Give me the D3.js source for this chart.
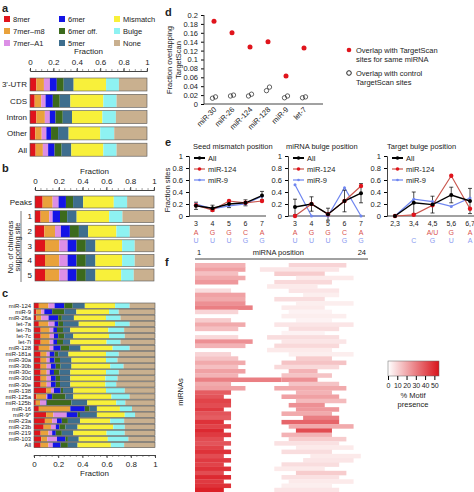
<!DOCTYPE html><html><head><meta charset="utf-8"><script src="https://cdn.jsdelivr.net/npm/d3@7"></script>
<style>body{margin:0;background:#fff}text{font-family:"Liberation Sans",Arial,sans-serif;fill:#222}</style></head><body><svg id="s" width="474" height="492"></svg><script>
const segNames=["8mer","7mer–m8","7mer–A1","6mer","6mer off.","5mer","Mismatch","Bulge","None"];
const segColors=["#e0141c","#e9a23b","#dc8fe6","#1414e6","#3c6a1c","#3e6e8e","#f8f03a","#8ef2f2","#c9b08f"];
const aCats=["3'-UTR","CDS","Intron","Other","All"];
const aCum=[[.054,.119,.17,.229,.288,.373,.65,.76],[.04,.096,.133,.195,.254,.345,.627,.74],[.054,.127,.169,.218,.28,.359,.619,.734],[.045,.10,.14,.18,.24,.33,.60,.72],[.048,.11,.155,.21,.27,.353,.627,.74]];
const bCats=["Peaks","1","2","3","4","5"];
const bCum=[[.064,.148,.198,.26,.32,.405,.662,.774],[.047,.12,.148,.21,.27,.35,.623,.735],[.078,.168,.218,.293,.369,.447,.684,.796],[.084,.204,.274,.349,.427,.508,.732,.838],[.084,.204,.274,.349,.427,.508,.732,.838],[.084,.204,.274,.349,.427,.508,.724,.83]];
const cCats=["miR-124","miR-9","miR-26a","let-7a","let-7b","let-7c","let-7i","miR-128","miR-181a","miR-30a","miR-30b","miR-30c","miR-30d","miR-30e","miR-138","miR-125a","miR-125b","miR-16","miR-9*","miR-23a","miR-23b","miR-219","miR-103","All"];
const cCum=[[.04,.12,.17,.25,.32,.42,.67,.79],[.02,.06,.085,.15,.25,.35,.62,.70],[.02,.06,.12,.20,.23,.33,.595,.715],[.04,.12,.17,.20,.24,.37,.67,.79],[.055,.13,.16,.19,.24,.30,.615,.745],[.055,.13,.165,.20,.25,.325,.62,.75],[.055,.13,.16,.19,.24,.30,.60,.715],[.04,.13,.16,.22,.29,.385,.65,.79],[.055,.105,.13,.17,.20,.285,.595,.70],[.055,.105,.13,.17,.215,.31,.595,.69],[.055,.105,.14,.18,.22,.31,.63,.74],[.055,.105,.13,.165,.21,.30,.595,.70],[.055,.105,.14,.18,.215,.30,.59,.69],[.055,.105,.14,.18,.215,.30,.59,.68],[.10,.14,.165,.22,.24,.325,.595,.75],[.02,.10,.11,.15,.26,.325,.64,.79],[.015,.05,.10,.105,.31,.44,.68,.755],[.04,.30,.30,.42,.46,.52,.71,.81],[.10,.16,.27,.36,.38,.52,.75,.835],[.09,.15,.19,.23,.28,.38,.63,.745],[.08,.14,.18,.21,.26,.36,.655,.75],[.055,.12,.15,.18,.23,.325,.60,.75],[.06,.11,.19,.26,.28,.37,.61,.78],[.055,.12,.155,.22,.28,.36,.635,.745]];
const dCats=["miR-30","miR-26","miR-124","miR-128","miR-9","let-7"];
const dSame=[.186,.16,.128,.14,.063,.126];
const dCtrl=[[.013,.016],[.018,.02],[.018,.022],[.03,.038],[.014,.018],[.014,.016]];
const dTicks=[0,.02,.04,.06,.08,.1,.12,.14,.16,.18,.2];
const e1X=["3","4","5","6","7"],e1Red=["A","G","G","C","A"],e1Blue=["U","U","U","G","G"];
const e1All=[.17,.13,.2,.22,.34],e1AllErr=[.06,.05,.06,.05,.07];
const e1R=[.18,.1,.25,.22,.25],e1B=[.2,.12,.17,.2,.33];
const e2X=["3","4","5","6","7"],e2Red=["A","G","G","C","A"],e2Blue=["U","U","U","G","G"];
const e2All=[.15,.2,.03,.25,.38],e2AllErr=[.13,.12,.1,.18,.16];
const e2R=[0,.2,.03,.25,.5],e2B=[.52,0,0,.47,0];
const e3X=["2,3","3,4","4,5","5,6","6,7"],e3Red=["","","A/U","G","A"],e3Blue=["","C","G","U","A"];
const e3All=[0,.22,.19,.35,.25],e3AllErr=[0,.18,.14,.13,.21];
const e3R=[0,.02,.18,.67,.12],e3B=[0,.28,.24,.16,.3];
// heatmap rows: [firstBlockEndCol, firstVal, secondStartCol, secondEndCol, secondVal]
const fRows=[[7,18,13,21,10],[7,22,9,20,6],[6,15,11,18,12],[7,20,14,22,5],[6,24,11,19,9],[0,0,10,17,5],[5,8,13,20,6],[7,22,15,20,4],[7,20,11,18,8],[7,26,14,22,4],[8,30,12,18,5],[6,10,13,19,3],[0,0,12,21,4],[5,12,14,19,3],[7,20,11,22,6],[6,15,13,20,8],[0,0,12,18,3],[6,9,10,20,8],[8,26,12,21,6],[7,18,11,20,9],[0,0,10,19,5],[5,10,13,22,4],[6,14,14,19,12],[7,20,12,21,14],[6,15,11,20,9],[7,22,13,17,18],[6,18,12,19,14],[12,30,12,17,26],[5,20,13,20,14],[7,22,11,21,20],[5,38,14,19,18],[4,40,12,20,22],[5,44,14,21,16],[5,42,13,18,26],[4,46,14,20,24],[5,40,12,19,20],[5,38,15,20,30],[4,48,12,20,36],[5,44,13,22,20],[4,50,14,19,42],[5,46,12,19,18],[4,42,13,21,12],[5,40,11,20,7],[4,44,14,22,5],[5,48,12,19,8],[4,42,16,23,5],[5,46,15,22,6],[4,44,12,20,8],[5,48,11,18,5],[4,42,14,21,12],[5,50,12,20,7],[4,46,13,22,5],[5,48,12,19,4],[4,52,11,20,6]];
const cbTicks=[0,10,20,30,40,50];

const svg=d3.select("#s");
const T=(x,y,t,o={})=>{const e=svg.append("text").attr("x",x).attr("y",y).text(t).attr("font-size",o.fs||8).attr("text-anchor",o.a||"start");if(o.fill)e.style("fill",o.fill);if(o.w)e.attr("font-weight",o.w);if(o.rot)e.attr("transform",`rotate(${o.rot},${x},${y})`);return e;};
[["a",2,12],["b",2,172],["c",2,297],["d",165,16],["e",165,146],["f",165,266]].forEach(p=>T(p[1],p[2],p[0],{fs:11,w:"bold"}));
segNames.forEach((n,i)=>{const col=Math.floor(i/3),row=i%3;const x=4+col*55,y=16+row*12;svg.append("rect").attr("x",x).attr("y",y).attr("width",6).attr("height",6).attr("fill",segColors[i]);T(x+9,y+6,n,{fs:7.5});});
function stacked(cats,cum,x0,x1,y0,step,h,fs,axisY,titleY,axisBottom){
  const x=d3.scaleLinear().domain([0,1]).range([x0,x1]);
  cats.forEach((c,i)=>{const b=[0,...cum[i],1];const y=y0+i*step;
    b.slice(0,-1).forEach((v,j)=>svg.append("rect").attr("x",x(v)).attr("y",y).attr("width",x(b[j+1])-x(v)).attr("height",h).attr("fill",segColors[j]));
    svg.append("rect").attr("x",x0).attr("y",y).attr("width",x1-x0).attr("height",h).attr("fill","none").attr("stroke","#555").attr("stroke-width",.6);
    T(x0-3,y+h/2+fs*0.36,c,{fs:fs,a:"end"});});
  const ax=axisBottom?d3.axisBottom(x):d3.axisTop(x);
  const g=svg.append("g").attr("transform",`translate(0,${axisY})`).call(ax.ticks(5).tickSize(3).tickFormat(d=>d===0||d===1?d:d3.format(".1f")(d)));
  g.selectAll("text").attr("font-size",8).style("font-family","Liberation Sans");g.select(".domain").attr("stroke","#444");
  g.selectAll(".tick line").attr("stroke","#444");
  g.selectAll(".minor").data(d3.range(0,1.001,.05)).enter().append("line").attr("x1",d=>x(d)).attr("x2",d=>x(d)).attr("y1",0).attr("y2",axisBottom?2:-2).attr("stroke","#444").attr("stroke-width",.5);
  T((x0+x1)/2,titleY,"Fraction",{fs:8,a:"middle"});
}
stacked(aCats,aCum,30,147,78,16.3,13,8,71,54,false);
stacked(bCats,bCum,35,154,196,14.6,12,8,190,174,false);
svg.append("line").attr("x1",21).attr("x2",21).attr("y1",211).attr("y2",282).attr("stroke","#444").attr("stroke-width",.7);
T(13,247,"No. of chimeras",{fs:7.5,a:"middle",rot:-90});T(20,247,"supporting site",{fs:7.5,a:"middle",rot:-90});
stacked(cCats,cCum,34,155,303,6.06,5.3,5.9,455,476,true);
{const y=d3.scaleLinear().domain([0,.2]).range([104,15]);const x=d3.scalePoint().domain(dCats).range([214,304]);
 const g=svg.append("g").attr("transform","translate(204,0)").call(d3.axisLeft(y).tickValues(dTicks).tickSize(3).tickFormat(d=>d===0?"0":d3.format("~g")(d)));
 g.selectAll("text").attr("font-size",7.5);g.select(".domain").remove();
 svg.append("line").attr("x1",204).attr("x2",204).attr("y1",15).attr("y2",104).attr("stroke","#444");
 svg.append("line").attr("x1",204).attr("x2",323).attr("y1",104).attr("y2",104).attr("stroke","#444");
 dCats.forEach((c,i)=>{svg.append("circle").attr("cx",x(c)).attr("cy",y(dSame[i])).attr("r",2.5).attr("fill","#e0141c");
  dCtrl[i].forEach((v,k)=>svg.append("circle").attr("cx",x(c)+(k?1.5:-1.5)).attr("cy",y(v)).attr("r",2.2).attr("fill","none").attr("stroke","#222").attr("stroke-width",.7));
  T(x(c)+3,110,c,{fs:7.5,a:"end",rot:-45});});
 T(172,60,"Fraction overlapping",{fs:7.5,a:"middle",rot:-90});T(181,60,"TargetScan",{fs:7.5,a:"middle",rot:-90});
 svg.append("circle").attr("cx",349).attr("cy",50).attr("r",2.3).attr("fill","#e0141c");
 T(356,53,"Overlap with TargetScan",{fs:7.5});T(356,62,"sites for same miRNA",{fs:7.5});
 svg.append("circle").attr("cx",349).attr("cy",73).attr("r",2.3).attr("fill","none").attr("stroke","#222");
 T(356,76,"Overlap with control",{fs:7.5});T(356,85,"TargetScan sites",{fs:7.5});}
function ePanel(ax0,xs,xLab,red,blue,all,err,r,b,title,titleX){
  const y=d3.scaleLinear().domain([0,1]).range([216,156]);
  const x=d3.scalePoint().domain(xLab).range(xs);
  const g=svg.append("g").attr("transform",`translate(${ax0},0)`).call(d3.axisLeft(y).ticks(5).tickSize(3).tickFormat(d=>d===0||d===1?d:d3.format(".1f")(d)));
  g.selectAll("text").attr("font-size",7.5);g.select(".domain").attr("stroke","#444");
  svg.append("line").attr("x1",ax0).attr("x2",xs[1]+4).attr("y1",216).attr("y2",216).attr("stroke","#444");
  T(titleX,149,title,{fs:7.5});
  const line=d3.line().x((d,i)=>x(xLab[i])).y(d=>y(d));
  svg.append("path").attr("d",line(b)).attr("fill","none").attr("stroke","#6f86f0").attr("stroke-width",1.2);
  svg.append("path").attr("d",line(r)).attr("fill","none").attr("stroke","#c9574e").attr("stroke-width",1.2);
  svg.append("path").attr("d",line(all)).attr("fill","none").attr("stroke","#000").attr("stroke-width",1.4);
  all.forEach((v,i)=>{if(!err[i])return;const xx=x(xLab[i]);svg.append("line").attr("x1",xx).attr("x2",xx).attr("y1",y(v-err[i])).attr("y2",y(v+err[i])).attr("stroke","#000").attr("stroke-width",.7);
    [v-err[i],v+err[i]].forEach(t=>svg.append("line").attr("x1",xx-2).attr("x2",xx+2).attr("y1",y(t)).attr("y2",y(t)).attr("stroke","#000").attr("stroke-width",.7));});
  b.forEach((v,i)=>svg.append("circle").attr("cx",x(xLab[i])).attr("cy",y(v)).attr("r",1.5).attr("fill","#6f86f0"));
  r.forEach((v,i)=>svg.append("circle").attr("cx",x(xLab[i])).attr("cy",y(v)).attr("r",2.2).attr("fill","#e0141c"));
  all.forEach((v,i)=>svg.append("circle").attr("cx",x(xLab[i])).attr("cy",y(v)).attr("r",2).attr("fill","#000"));
  xLab.forEach((l,i)=>{const xx=x(l);T(xx,226,l,{fs:7,a:"middle"});T(xx,234.5,red[i],{fs:7,a:"middle",fill:"#d9534f"});T(xx,243,blue[i],{fs:7,a:"middle",fill:"#8a9af0"});});
  [["All","#000"],["miR-124","#c9574e"],["miR-9","#6f86f0"]].forEach((L,k)=>{const yy=158+k*11;svg.append("line").attr("x1",ax0+5).attr("x2",ax0+16).attr("y1",yy).attr("y2",yy).attr("stroke",L[1]).attr("stroke-width",k?1.2:2);
    svg.append("circle").attr("cx",ax0+10.5).attr("cy",yy).attr("r",k==2?1.3:1.8).attr("fill",k==1?"#e0141c":L[1]);T(ax0+19,yy+3,L[0],{fs:7.5});});
}
ePanel(189,[196,262],e1X,e1Red,e1Blue,e1All,e1AllErr,e1R,e1B,"Seed mismatch position",193);
ePanel(288,[295,361],e2X,e2Red,e2Blue,e2All,e2AllErr,e2R,e2B,"miRNA bulge position",286);
ePanel(387,[395,470],e3X,e3Red,e3Blue,e3All,e3AllErr,e3R,e3B,"Target bulge position",387);
T(170,190,"Fraction sites",{fs:7.5,a:"middle",rot:-90});
{const x=d3.scaleLinear().domain([0,24]).range([195,368]);const y=d3.scaleBand().domain(d3.range(fRows.length)).range([263,492]);
 const col=d3.scaleLinear().domain([0,55]).range(["#ffffff","#d9141c"]);
 fRows.forEach((r,i)=>{if(r[0])svg.append("rect").attr("x",x(0)).attr("y",y(i)).attr("width",x(r[0])-x(0)).attr("height",y.bandwidth()+.3).attr("fill",col(r[1]));
  svg.append("rect").attr("x",x(r[2])).attr("y",y(i)).attr("width",x(r[3])-x(r[2])).attr("height",y.bandwidth()+.3).attr("fill",col(r[4]));});
 svg.append("line").attr("x1",195).attr("x2",368).attr("y1",259).attr("y2",259).attr("stroke","#444");
 T(197,255,"1",{fs:7.5});T(x(8),255,"miRNA position",{fs:7.5});T(366,255,"24",{fs:7.5,a:"end"});
 T(183,392,"miRNAs",{fs:7.5,a:"middle",rot:-90});
 const cb=d3.scaleLinear().domain([0,55]).range([388,439]);
 const gr=svg.append("defs").append("linearGradient").attr("id","gr");gr.append("stop").attr("offset",0).attr("stop-color","#fff");gr.append("stop").attr("offset",1).attr("stop-color","#d9141c");
 svg.append("rect").attr("x",388).attr("y",361).attr("width",51).attr("height",15).attr("fill","url(#gr)").attr("stroke","#666").attr("stroke-width",.5);
 const g=svg.append("g").attr("transform","translate(0,376)").call(d3.axisBottom(cb).tickValues(cbTicks).tickSize(4).tickFormat(d3.format("d")));
 g.selectAll("text").attr("font-size",7);g.select(".domain").remove();
 T(413,398,"% Motif",{fs:7.5,a:"middle"});T(413,407,"presence",{fs:7.5,a:"middle"});}
</script></body></html>
